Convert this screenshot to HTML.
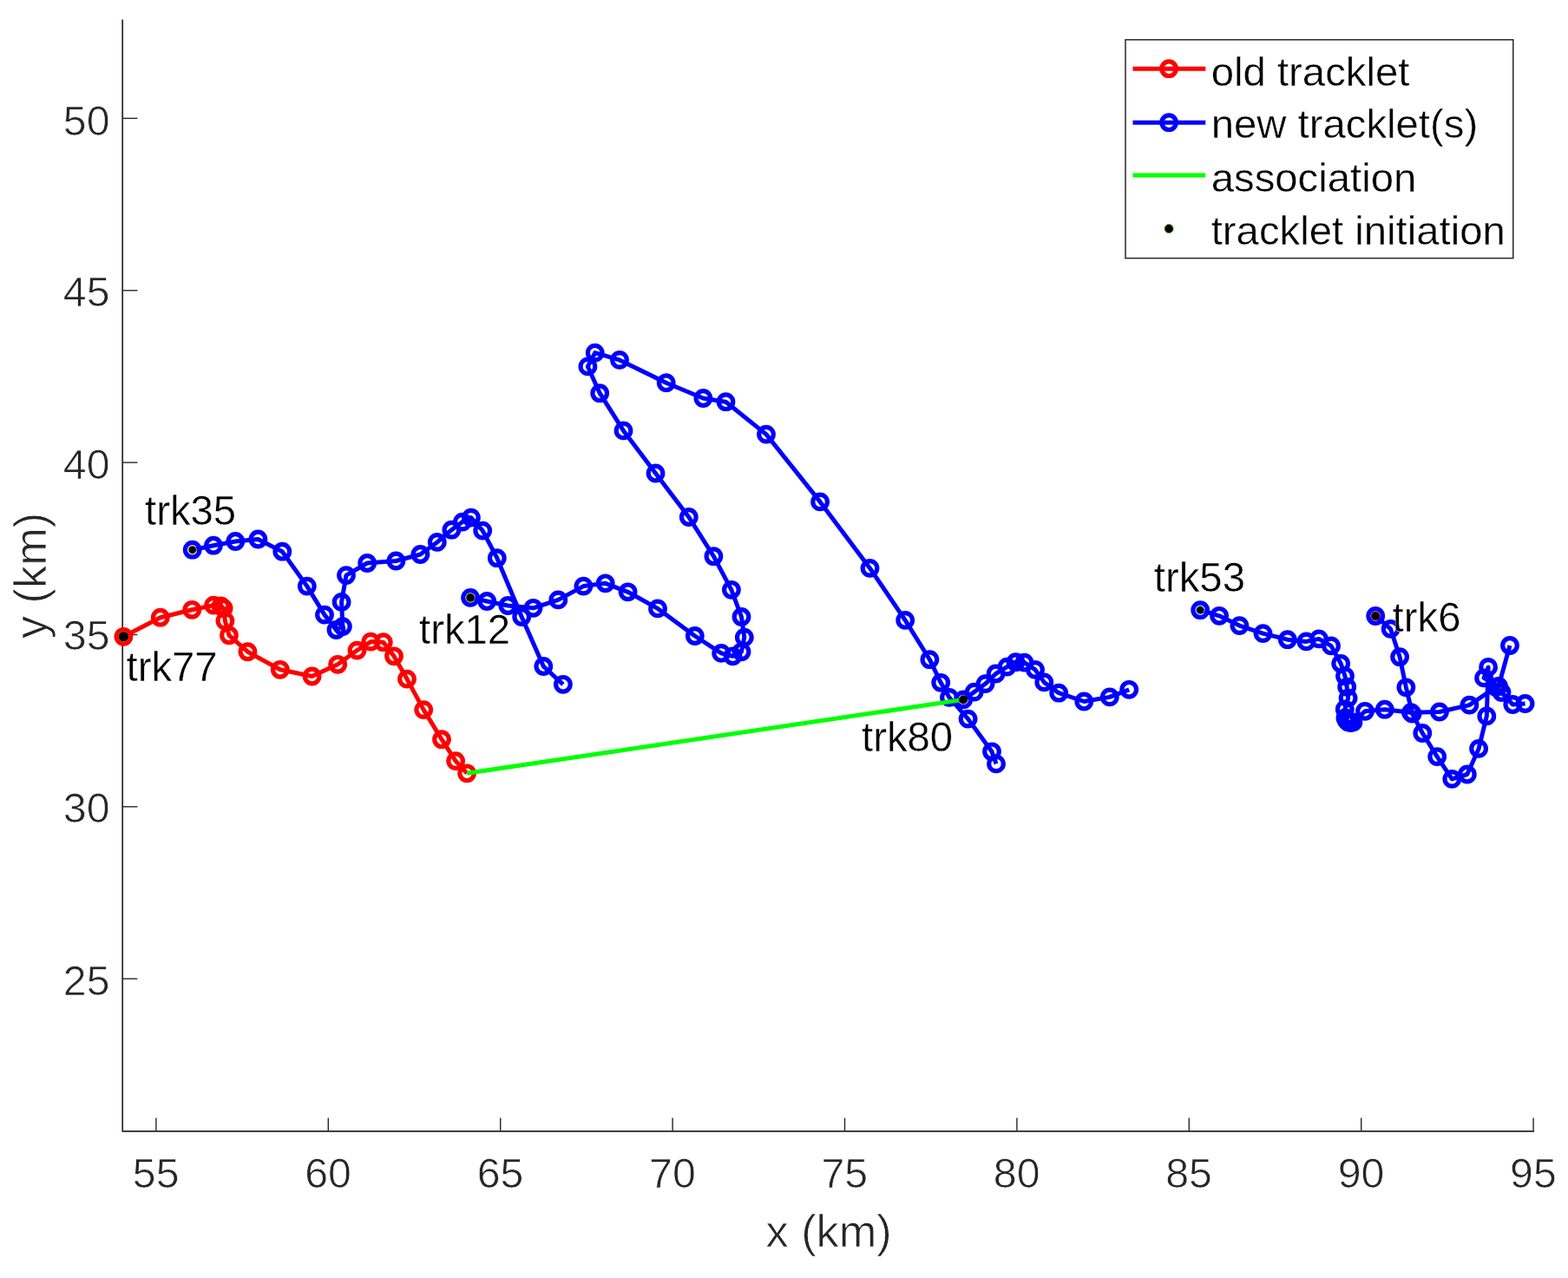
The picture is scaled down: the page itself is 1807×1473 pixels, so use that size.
<!DOCTYPE html>
<html lang="en"><head><meta charset="utf-8"><title>Tracklet association</title>
<style>
html,body{margin:0;padding:0;background:#fff;}
body{width:1807px;height:1473px;overflow:hidden;}
svg{display:block;font-family:"Liberation Sans",sans-serif;}
.tick{font-size:48.3px;fill:#262626;stroke:#fff;stroke-width:0.7px;}
.lab{font-size:52.3px;fill:#262626;stroke:#fff;stroke-width:0.7px;}
.trk{font-size:47.3px;fill:#000;stroke:#fff;stroke-width:0.4px;}
.leg{font-size:47.3px;fill:#000;stroke:#fff;stroke-width:0.4px;}
</style></head><body>
<svg width="1807" height="1473" viewBox="0 0 1807 1473">
<rect x="0" y="0" width="1807" height="1473" fill="#ffffff"/>
<g stroke="#262626" stroke-width="1.7" fill="none" stroke-linecap="square">
<path d="M141.2,23.4 V1303.9 H1767.2"/>
<line x1="179.9" y1="1303.9" x2="179.9" y2="1288.5" stroke-width="1.4" stroke-linecap="butt"/>
<line x1="378.3" y1="1303.9" x2="378.3" y2="1288.5" stroke-width="1.4" stroke-linecap="butt"/>
<line x1="576.7" y1="1303.9" x2="576.7" y2="1288.5" stroke-width="1.4" stroke-linecap="butt"/>
<line x1="775.1" y1="1303.9" x2="775.1" y2="1288.5" stroke-width="1.4" stroke-linecap="butt"/>
<line x1="973.5" y1="1303.9" x2="973.5" y2="1288.5" stroke-width="1.4" stroke-linecap="butt"/>
<line x1="1171.9" y1="1303.9" x2="1171.9" y2="1288.5" stroke-width="1.4" stroke-linecap="butt"/>
<line x1="1370.3" y1="1303.9" x2="1370.3" y2="1288.5" stroke-width="1.4" stroke-linecap="butt"/>
<line x1="1568.7" y1="1303.9" x2="1568.7" y2="1288.5" stroke-width="1.4" stroke-linecap="butt"/>
<line x1="1767.1" y1="1303.9" x2="1767.1" y2="1288.5" stroke-width="1.4" stroke-linecap="butt"/>
<line x1="141.2" y1="1128.1" x2="158.39999999999998" y2="1128.1" stroke-width="1.4" stroke-linecap="butt"/>
<line x1="141.2" y1="929.8" x2="158.39999999999998" y2="929.8" stroke-width="1.4" stroke-linecap="butt"/>
<line x1="141.2" y1="731.5" x2="158.39999999999998" y2="731.5" stroke-width="1.4" stroke-linecap="butt"/>
<line x1="141.2" y1="533.1" x2="158.39999999999998" y2="533.1" stroke-width="1.4" stroke-linecap="butt"/>
<line x1="141.2" y1="334.8" x2="158.39999999999998" y2="334.8" stroke-width="1.4" stroke-linecap="butt"/>
<line x1="141.2" y1="136.4" x2="158.39999999999998" y2="136.4" stroke-width="1.4" stroke-linecap="butt"/>
</g>
<g class="tick" text-anchor="middle">
<text transform="translate(179.7,1369.2) scale(1,1.01)">55</text><text transform="translate(378.1,1369.2) scale(1,1.01)">60</text><text transform="translate(576.5,1369.2) scale(1,1.01)">65</text><text transform="translate(774.9,1369.2) scale(1,1.01)">70</text><text transform="translate(973.3,1369.2) scale(1,1.01)">75</text><text transform="translate(1171.7,1369.2) scale(1,1.01)">80</text><text transform="translate(1370.1,1369.2) scale(1,1.01)">85</text><text transform="translate(1568.5,1369.2) scale(1,1.01)">90</text><text transform="translate(1766.9,1369.2) scale(1,1.01)">95</text>
</g>
<g class="tick" text-anchor="end">
<text transform="translate(126.5,1147.3) scale(1,1.01)">25</text><text transform="translate(126.5,948.0) scale(1,1.01)">30</text><text transform="translate(126.5,749.3) scale(1,1.01)">35</text><text transform="translate(126.5,551.8) scale(1,1.01)">40</text><text transform="translate(126.5,353.2) scale(1,1.01)">45</text><text transform="translate(126.5,156.3) scale(1,1.01)">50</text>
</g>
<text class="lab" text-anchor="middle" x="955.1" y="1436.8">x (km)</text>
<text class="lab" text-anchor="middle" transform="translate(53.3,663.5) rotate(-90)">y (km)</text>
<g>
<polyline points="142.4,733.8 184.8,711.7 221.3,702.8 246.1,697.6 254.5,698.5 257.6,701.0 259.4,715.6 263.9,732.2 285.4,751.2 322.8,771.8 359.6,779.5 389.2,765.8 411.5,749.6 427.3,739.6 441.8,740.2 454.0,756.3 469.0,782.6 488.2,818.1 509.0,852.2 525.1,877.1 538.1,891.3" fill="none" stroke="#ff0000" stroke-width="5.0" stroke-linejoin="round" stroke-linecap="butt"/>
<g fill="none" stroke="#ff0000" stroke-width="5.2"><circle cx="142.4" cy="733.8" r="8.3"/><circle cx="184.8" cy="711.7" r="8.3"/><circle cx="221.3" cy="702.8" r="8.3"/><circle cx="246.1" cy="697.6" r="8.3"/><circle cx="254.5" cy="698.5" r="8.3"/><circle cx="257.6" cy="701.0" r="8.3"/><circle cx="259.4" cy="715.6" r="8.3"/><circle cx="263.9" cy="732.2" r="8.3"/><circle cx="285.4" cy="751.2" r="8.3"/><circle cx="322.8" cy="771.8" r="8.3"/><circle cx="359.6" cy="779.5" r="8.3"/><circle cx="389.2" cy="765.8" r="8.3"/><circle cx="411.5" cy="749.6" r="8.3"/><circle cx="427.3" cy="739.6" r="8.3"/><circle cx="441.8" cy="740.2" r="8.3"/><circle cx="454.0" cy="756.3" r="8.3"/><circle cx="469.0" cy="782.6" r="8.3"/><circle cx="488.2" cy="818.1" r="8.3"/><circle cx="509.0" cy="852.2" r="8.3"/><circle cx="525.1" cy="877.1" r="8.3"/><circle cx="538.1" cy="891.3" r="8.3"/></g>
<polyline points="221.7,633.7 246.0,628.7 271.3,624.0 297.4,621.5 325.3,635.7 353.8,675.6 374.0,708.6 387.5,726.0 394.9,722.1 393.6,693.9 399.0,663.1 423.2,649.0 456.4,646.5 484.4,639.0 503.8,624.9 520.4,610.7 532.9,601.6 542.9,596.6 556.2,611.6 572.8,643.2 601.2,711.0 626.3,768.0 648.9,788.8" fill="none" stroke="#0000ff" stroke-width="5.0" stroke-linejoin="round" stroke-linecap="butt"/>
<g fill="none" stroke="#0000ff" stroke-width="5.2"><circle cx="221.7" cy="633.7" r="8.3"/><circle cx="246.0" cy="628.7" r="8.3"/><circle cx="271.3" cy="624.0" r="8.3"/><circle cx="297.4" cy="621.5" r="8.3"/><circle cx="325.3" cy="635.7" r="8.3"/><circle cx="353.8" cy="675.6" r="8.3"/><circle cx="374.0" cy="708.6" r="8.3"/><circle cx="387.5" cy="726.0" r="8.3"/><circle cx="394.9" cy="722.1" r="8.3"/><circle cx="393.6" cy="693.9" r="8.3"/><circle cx="399.0" cy="663.1" r="8.3"/><circle cx="423.2" cy="649.0" r="8.3"/><circle cx="456.4" cy="646.5" r="8.3"/><circle cx="484.4" cy="639.0" r="8.3"/><circle cx="503.8" cy="624.9" r="8.3"/><circle cx="520.4" cy="610.7" r="8.3"/><circle cx="532.9" cy="601.6" r="8.3"/><circle cx="542.9" cy="596.6" r="8.3"/><circle cx="556.2" cy="611.6" r="8.3"/><circle cx="572.8" cy="643.2" r="8.3"/><circle cx="601.2" cy="711.0" r="8.3"/><circle cx="626.3" cy="768.0" r="8.3"/><circle cx="648.9" cy="788.8" r="8.3"/></g>
<polyline points="542.1,688.9 561.2,693.0 585.3,698.0 614.5,700.8 643.3,691.4 672.4,675.6 697.7,672.3 723.6,682.3 758.0,701.4 800.8,733.0 831.2,752.9 844.5,756.3 854.5,751.3 857.8,734.6 854.5,711.0 842.9,679.8 822.4,641.2 793.8,596.0 755.5,545.5 718.5,496.4 691.2,453.2 677.4,422.4 685.7,406.6 714.0,414.9 767.7,441.2 810.4,459.0 836.5,463.2 883.0,500.6 945.1,578.4 1002.5,654.9 1043.2,714.9 1071.4,760.2 1084.2,786.8 1094.0,803.9 1115.6,828.6 1143.0,866.3 1148.0,880.4" fill="none" stroke="#0000ff" stroke-width="5.0" stroke-linejoin="round" stroke-linecap="butt"/>
<g fill="none" stroke="#0000ff" stroke-width="5.2"><circle cx="542.1" cy="688.9" r="8.3"/><circle cx="561.2" cy="693.0" r="8.3"/><circle cx="585.3" cy="698.0" r="8.3"/><circle cx="614.5" cy="700.8" r="8.3"/><circle cx="643.3" cy="691.4" r="8.3"/><circle cx="672.4" cy="675.6" r="8.3"/><circle cx="697.7" cy="672.3" r="8.3"/><circle cx="723.6" cy="682.3" r="8.3"/><circle cx="758.0" cy="701.4" r="8.3"/><circle cx="800.8" cy="733.0" r="8.3"/><circle cx="831.2" cy="752.9" r="8.3"/><circle cx="844.5" cy="756.3" r="8.3"/><circle cx="854.5" cy="751.3" r="8.3"/><circle cx="857.8" cy="734.6" r="8.3"/><circle cx="854.5" cy="711.0" r="8.3"/><circle cx="842.9" cy="679.8" r="8.3"/><circle cx="822.4" cy="641.2" r="8.3"/><circle cx="793.8" cy="596.0" r="8.3"/><circle cx="755.5" cy="545.5" r="8.3"/><circle cx="718.5" cy="496.4" r="8.3"/><circle cx="691.2" cy="453.2" r="8.3"/><circle cx="677.4" cy="422.4" r="8.3"/><circle cx="685.7" cy="406.6" r="8.3"/><circle cx="714.0" cy="414.9" r="8.3"/><circle cx="767.7" cy="441.2" r="8.3"/><circle cx="810.4" cy="459.0" r="8.3"/><circle cx="836.5" cy="463.2" r="8.3"/><circle cx="883.0" cy="500.6" r="8.3"/><circle cx="945.1" cy="578.4" r="8.3"/><circle cx="1002.5" cy="654.9" r="8.3"/><circle cx="1043.2" cy="714.9" r="8.3"/><circle cx="1071.4" cy="760.2" r="8.3"/><circle cx="1084.2" cy="786.8" r="8.3"/><circle cx="1094.0" cy="803.9" r="8.3"/><circle cx="1115.6" cy="828.6" r="8.3"/><circle cx="1143.0" cy="866.3" r="8.3"/><circle cx="1148.0" cy="880.4" r="8.3"/></g>
<polyline points="1110.2,806.4 1122.7,797.6 1135.6,788.1 1147.6,776.5 1160.5,768.6 1170.5,763.2 1180.5,763.6 1193.0,771.9 1203.3,786.4 1220.2,798.7 1249.3,808.5 1278.8,803.4 1301.2,794.8" fill="none" stroke="#0000ff" stroke-width="5.0" stroke-linejoin="round" stroke-linecap="butt"/>
<g fill="none" stroke="#0000ff" stroke-width="5.2"><circle cx="1110.2" cy="806.4" r="8.3"/><circle cx="1122.7" cy="797.6" r="8.3"/><circle cx="1135.6" cy="788.1" r="8.3"/><circle cx="1147.6" cy="776.5" r="8.3"/><circle cx="1160.5" cy="768.6" r="8.3"/><circle cx="1170.5" cy="763.2" r="8.3"/><circle cx="1180.5" cy="763.6" r="8.3"/><circle cx="1193.0" cy="771.9" r="8.3"/><circle cx="1203.3" cy="786.4" r="8.3"/><circle cx="1220.2" cy="798.7" r="8.3"/><circle cx="1249.3" cy="808.5" r="8.3"/><circle cx="1278.8" cy="803.4" r="8.3"/><circle cx="1301.2" cy="794.8" r="8.3"/></g>
<polyline points="1383.2,703.2 1405.1,709.8 1428.4,721.1 1455.5,730.1 1483.8,737.2 1505.4,739.4 1519.9,736.4 1534.0,744.4 1545.2,764.8 1550.0,779.3 1552.2,791.8 1553.6,804.6 1549.8,817.4 1550.4,827.4 1551.6,830.2 1553.6,832.2 1556.4,833.0 1559.4,832.4 1573.0,819.8 1595.8,817.7 1626.0,821.2 1658.9,820.5 1693.4,812.6 1724.0,792.0 1730.5,798.0 1743.3,812.0 1757.6,811.0" fill="none" stroke="#0000ff" stroke-width="5.0" stroke-linejoin="round" stroke-linecap="butt"/>
<g fill="none" stroke="#0000ff" stroke-width="5.2"><circle cx="1383.2" cy="703.2" r="8.3"/><circle cx="1405.1" cy="709.8" r="8.3"/><circle cx="1428.4" cy="721.1" r="8.3"/><circle cx="1455.5" cy="730.1" r="8.3"/><circle cx="1483.8" cy="737.2" r="8.3"/><circle cx="1505.4" cy="739.4" r="8.3"/><circle cx="1519.9" cy="736.4" r="8.3"/><circle cx="1534.0" cy="744.4" r="8.3"/><circle cx="1545.2" cy="764.8" r="8.3"/><circle cx="1550.0" cy="779.3" r="8.3"/><circle cx="1552.2" cy="791.8" r="8.3"/><circle cx="1553.6" cy="804.6" r="8.3"/><circle cx="1549.8" cy="817.4" r="8.3"/><circle cx="1550.4" cy="827.4" r="8.3"/><circle cx="1551.6" cy="830.2" r="8.3"/><circle cx="1553.6" cy="832.2" r="8.3"/><circle cx="1556.4" cy="833.0" r="8.3"/><circle cx="1559.4" cy="832.4" r="8.3"/><circle cx="1573.0" cy="819.8" r="8.3"/><circle cx="1595.8" cy="817.7" r="8.3"/><circle cx="1626.0" cy="821.2" r="8.3"/><circle cx="1658.9" cy="820.5" r="8.3"/><circle cx="1693.4" cy="812.6" r="8.3"/><circle cx="1724.0" cy="792.0" r="8.3"/><circle cx="1730.5" cy="798.0" r="8.3"/><circle cx="1743.3" cy="812.0" r="8.3"/><circle cx="1757.6" cy="811.0" r="8.3"/></g>
<polyline points="1585.2,710.0 1602.6,724.9 1613.1,757.2 1620.4,792.3 1627.6,822.6 1639.3,845.0 1656.2,872.1 1673.3,897.9 1690.8,892.5 1704.1,862.9 1713.3,825.4 1715.1,768.9 1710.1,781.4 1727.0,791.0 1740.0,744.0" fill="none" stroke="#0000ff" stroke-width="5.0" stroke-linejoin="round" stroke-linecap="butt"/>
<g fill="none" stroke="#0000ff" stroke-width="5.2"><circle cx="1585.2" cy="710.0" r="8.3"/><circle cx="1602.6" cy="724.9" r="8.3"/><circle cx="1613.1" cy="757.2" r="8.3"/><circle cx="1620.4" cy="792.3" r="8.3"/><circle cx="1627.6" cy="822.6" r="8.3"/><circle cx="1639.3" cy="845.0" r="8.3"/><circle cx="1656.2" cy="872.1" r="8.3"/><circle cx="1673.3" cy="897.9" r="8.3"/><circle cx="1690.8" cy="892.5" r="8.3"/><circle cx="1704.1" cy="862.9" r="8.3"/><circle cx="1713.3" cy="825.4" r="8.3"/><circle cx="1715.1" cy="768.9" r="8.3"/><circle cx="1710.1" cy="781.4" r="8.3"/><circle cx="1727.0" cy="791.0" r="8.3"/><circle cx="1740.0" cy="744.0" r="8.3"/></g>
<line x1="538.1" y1="891.3" x2="1110.2" y2="806.4" stroke="#00ff00" stroke-width="5.0"/>
<g fill="#000" stroke-width="0.9"><circle cx="142.4" cy="733.8" r="6.0" stroke="#d95319"/><circle cx="221.7" cy="633.7" r="4.7" stroke="#edb120"/><circle cx="542.1" cy="688.9" r="5.1" stroke="#77ac30"/><circle cx="1110.2" cy="806.4" r="4.7" stroke="#000000"/><circle cx="1383.2" cy="703.2" r="4.7" stroke="#4dbeee"/><circle cx="1585.2" cy="710.0" r="5.1" stroke="#a2142f"/></g>
</g>
<text class="trk" x="167.0" y="604.5">trk35</text>
<text class="trk" x="145.5" y="784.5">trk77</text>
<text class="trk" x="483.0" y="742.3">trk12</text>
<text class="trk" x="993.0" y="866.3">trk80</text>
<text class="trk" x="1329.8" y="682.4">trk53</text>
<text class="trk" x="1604.6" y="727.6">trk6</text>
<rect x="1297.0" y="45.8" width="446.8" height="251.8" fill="#fff" stroke="#262626" stroke-width="1.5"/>
<line x1="1305.5" y1="79.2" x2="1389.3" y2="79.2" stroke="#ff0000" stroke-width="5.0"/><circle cx="1347.1" cy="79.2" r="8.3" fill="none" stroke="#ff0000" stroke-width="5.2"/>
<line x1="1305.5" y1="141.2" x2="1389.3" y2="141.2" stroke="#0000ff" stroke-width="5.0"/><circle cx="1347.1" cy="141.2" r="8.3" fill="none" stroke="#0000ff" stroke-width="5.2"/>
<line x1="1305.5" y1="201.9" x2="1389.3" y2="201.9" stroke="#00ff00" stroke-width="5.0"/>
<circle cx="1347.1" cy="263.6" r="5.1" fill="#000" stroke="#77ac30" stroke-width="0.9"/>
<text class="leg" transform="translate(1395.7,98.6) scale(1,0.965)">old tracklet</text>
<text class="leg" transform="translate(1395.7,159.4) scale(1,0.965)">new tracklet(s)</text>
<text class="leg" transform="translate(1395.7,221.0) scale(1,0.965)">association</text>
<text class="leg" transform="translate(1395.7,281.7) scale(1,0.965)">tracklet initiation</text>
</svg>
</body></html>
